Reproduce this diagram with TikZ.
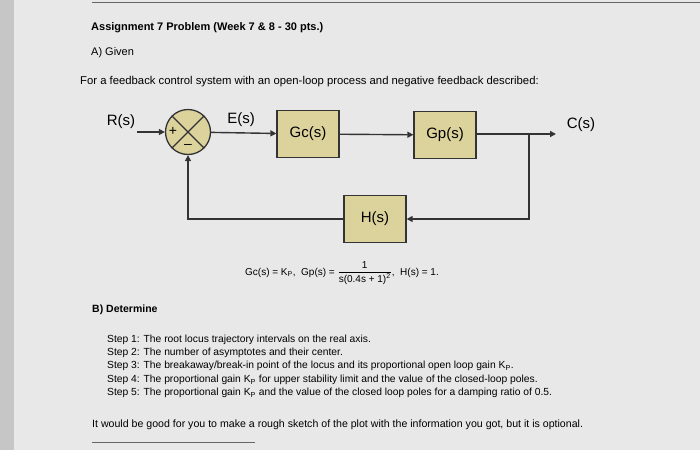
\documentclass[tikz,border=0pt]{standalone}
\usepackage{fontspec}
\setmainfont{Liberation Sans}
\usetikzlibrary{arrows.meta}
\definecolor{khaki}{HTML}{DCD29C}
\begin{document}
\begin{tikzpicture}[x=1pt,y=-1pt,
  blk/.style={draw=black!80,line width=1.3pt,fill=khaki,minimum width=62pt,minimum height=47pt,font=\fontsize{15}{15}\selectfont},
  sig/.style={draw=black!80,line width=1.4pt,-{Triangle[length=6pt,width=6pt]}},
  txt/.style={anchor=west,inner sep=0pt,font=\fontsize{10.3}{12}\selectfont},
  lab/.style={inner sep=0pt,font=\fontsize{15}{15}\selectfont}]
\useasboundingbox (0,0) rectangle (700,450);
\fill[gray!18] (0,0) rectangle (700,450);
\fill[gray!45] (0,0) rectangle (14,450);
\draw[black!60,line width=0.6pt] (92,2) -- (700,2);
\draw[black!60,line width=0.6pt] (92,442) -- (255,442);
\node[txt,font=\bfseries\fontsize{11}{12}\selectfont] (t1) at (91,28) {Assignment 7 Problem (Week 7 \& 8 - 30 pts.)};
\node[txt,font=\fontsize{11}{12}\selectfont] (t2) at (91,53) {A) Given};
\node[txt,font=\fontsize{11.3}{12}\selectfont] (t3) at (80,82) {For a feedback control system with an open-loop process and negative feedback described:};
% diagram
\node[draw=black!80,line width=1.3pt,fill=khaki,circle,minimum size=45pt,inner sep=0pt] (sum) at (188,132) {};
\draw[black!80,line width=1.2pt] (sum.45) -- (sum.225) (sum.135) -- (sum.-45);
\node[lab,font=\fontsize{14}{14}\selectfont] (pl) at (173,131) {+};
\node[lab,font=\fontsize{14}{14}\selectfont] (mi) at (188,146) {–};
\node[blk] (gc) at (308,134) {Gc(s)};
\node[blk] (gp) at (445,135) {Gp(s)};
\node[blk] (h) at (375,219) {H(s)};
\node[lab] (r) at (121,122) {R(s)};
\node[lab] (e) at (241,120) {E(s)};
\node[lab] (c) at (581,125) {C(s)};
\coordinate (rin) at (137,132);
\coordinate (br) at (529,134);
\coordinate (out) at (556,134);
\draw[sig] (rin) -- (sum);
\draw[sig] (sum) -- (gc);
\draw[sig] (gc) -- (gp);
\draw[black!80,line width=1.4pt] (gp.east|-br) -- (br);
\draw[sig] (br) -- (out);
\draw[sig] (br) |- (h);
\draw[sig] (h) -| (sum);
\node[inner sep=0pt,font=\fontsize{10}{12}\selectfont] (eq) at (342,273) {Gc(s) = K\textsubscript{P},\ \ Gp(s) = $\displaystyle\frac{\hbox{1}}{\hbox{s(0.4s + 1)\textsuperscript{2}}}$,\ \ H(s) = 1.};
% part B
\node[txt,font=\bfseries\fontsize{10.5}{12}\selectfont] (b) at (92,310) {B) Determine};
\node[txt] (s1) at (107,340) {Step 1: The root locus trajectory intervals on the real axis.};
\node[txt] (s2) at (107,353) {Step 2: The number of asymptotes and their center.};
\node[txt] (s3) at (107,366) {Step 3: The breakaway/break-in point of the locus and its proportional open loop gain K\textsubscript{P}.};
\node[txt] (s4) at (107,380) {Step 4: The proportional gain K\textsubscript{P} for upper stability limit and the value of the closed-loop poles.};
\node[txt] (s5) at (107,393) {Step 5: The proportional gain K\textsubscript{P} and the value of the closed loop poles for a damping ratio of 0.5.};
\node[txt,font=\fontsize{10.6}{12}\selectfont] (last) at (92,425) {It would be good for you to make a rough sketch of the plot with the information you got, but it is optional.};
\end{tikzpicture}
\end{document}
